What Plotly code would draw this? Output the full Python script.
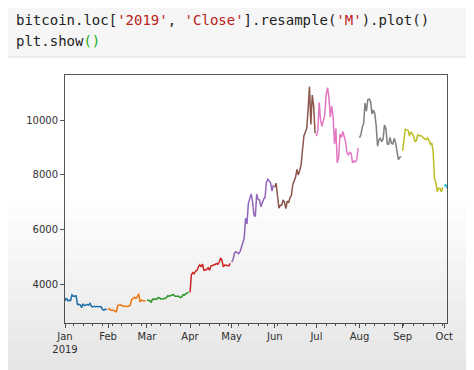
import pandas as pd
import plotly.graph_objects as go

# Daily close values per month
months = ["2019-01", "2019-02", "2019-03", "2019-04", "2019-05",
          "2019-06", "2019-07", "2019-08", "2019-09", "2019-10"]
jan = [3401, 3490, 3395, 3414, 3403, 3608, 3562, 3567, 3571, 3256, 3263, 3240, 3144, 3280, 3213, 3235,
       3256, 3237, 3300, 3187, 3165, 3190, 3173, 3187, 3186, 3188, 3172, 3071, 3052, 3085, 3060]
feb = [3069, 3099, 3048, 3044, 3050, 3004, 2991, 3227, 3231, 3247, 3211, 3215, 3196, 3183, 3186, 3194,
       3233, 3446, 3473, 3520, 3480, 3525, 3645, 3353, 3417, 3392, 3389, 3392]
mar = [3416, 3420, 3405, 3329, 3448, 3455, 3462, 3452, 3508, 3497, 3456, 3460, 3457, 3473, 3505, 3583,
       3562, 3569, 3603, 3617, 3566, 3561, 3572, 3560, 3507, 3527, 3617, 3601, 3650, 3690, 3700]
apr = [3701, 4343, 4426, 4381, 4483, 4503, 4627, 4708, 4632, 4739, 4507, 4530, 4536, 4599, 4510, 4660,
       4674, 4716, 4720, 4751, 4730, 4805, 4959, 4864, 4637, 4699, 4689, 4704, 4670, 4762]
may = [4808, 4900, 5134, 5190, 5158, 5115, 5188, 5324, 5495, 5677, 6412, 6205, 6955, 7115, 7303, 7018,
       6536, 6471, 7296, 7101, 7087, 6835, 7015, 7109, 7167, 7719, 7837, 7761, 7707, 7404, 7631]
jun = [7536, 7694, 7224, 6783, 6885, 6883, 7079, 7000, 6766, 7040, 6976, 7168, 7243, 7650, 7778, 7915,
       8202, 7992, 8161, 8384, 8927, 9418, 9553, 9690, 10376, 11230, 9841, 10918, 10524, 9519]
jul = [9419, 9613, 10645, 9981, 9770, 9975, 10190, 10934, 11190, 10820, 10109, 10515, 10139, 9129, 9697,
       8435, 8627, 9493, 9372, 9583, 9433, 9205, 8811, 8732, 8821, 8784, 8435, 8501, 8472, 8550, 8976]
aug = [9360, 9466, 9740, 9873, 10625, 10330, 10748, 10770, 10677, 10219, 10371, 10244, 9806, 9047, 9280,
       9337, 9209, 9311, 9824, 9687, 9124, 9118, 9367, 9144, 9125, 9334, 9167, 8779, 8559, 8638, 8668]
sep = [8880, 9416, 9667, 9641, 9624, 9421, 9571, 9502, 9405, 9206, 9262, 9473, 9428, 9426, 9416, 9352,
       9319, 9280, 9342, 9265, 9118, 9164, 8854, 7845, 7723, 7388, 7509, 7504, 7375, 7547]
octo = [7592, 7638, 7516]
series = [jan, feb, mar, apr, may, jun, jul, aug, sep, octo]

tick_dates = ["2019-01-01", "2019-02-01", "2019-03-01", "2019-04-01", "2019-05-01",
              "2019-06-01", "2019-07-01", "2019-08-01", "2019-09-01", "2019-10-01"]
tick_labels = ["Jan<br>2019", "Feb", "Mar", "Apr", "May", "Jun", "Jul", "Aug", "Sep", "Oct"]
y_ticks = [4000, 6000, 8000, 10000]
y_labels = ["4000", "6000", "8000", "10000"]

colors = ["#1f77b4", "#ff7f0e", "#2ca02c", "#d62728", "#9467bd",
          "#8c564b", "#e377c2", "#7f7f7f", "#bcbd22", "#17becf"]

OFF = 8  # default page body margin
W, H = 474 - OFF, 370 - OFF
# target screen pixels of the plot area
SL, SR, ST, SB = 65, 447, 75, 323
L, R, T, B = SL - OFF, SR - OFF, ST - OFF, SB - OFF


def px(x):  # screen pixel -> paper
    return (x - SL) / (SR - SL)


def py(y):
    return (SB - y) / (SB - ST)


fig = go.Figure()
for m, vals, c in zip(months, series, colors):
    dates = pd.date_range(m + "-01", periods=len(vals), freq="D")
    fig.add_trace(go.Scatter(x=dates, y=vals, mode="lines",
                             line=dict(color=c, width=1.5), showlegend=False,
                             hoverinfo="skip"))

shapes = []
# code cell box
shapes.append(dict(type="rect", xref="paper", yref="paper",
                   x0=px(6), x1=px(480), y0=py(57), y1=py(4),
                   fillcolor="#f6f6f6", line=dict(color="#dcdcdc", width=1), layer="below"))
# bottom grey vignette
n = 17
for i in range(n):
    y0p = 200 + i * 10
    shapes.append(dict(type="rect", xref="paper", yref="paper",
                       x0=px(-2), x1=px(490), y0=py(y0p + 10), y1=py(y0p),
                       fillcolor="rgba(0,0,0,%.4f)" % (0.006 * (i + 1)),
                       line=dict(width=0), layer="above"))

S = "#ba2121"
code1 = ("bitcoin.loc[<span style='color:%s'>'2019'</span>, <span style='color:%s'>'Close'</span>]"
         ".resample(<span style='color:%s'>'M'</span>).plot()") % (S, S, S)
code2 = "plt.show<span style='color:#22aa22'>()</span>"

annotations = [
    dict(text=code1, xref="paper", yref="paper", x=px(14), y=py(20), xanchor="left",
         yanchor="middle", showarrow=False,
         font=dict(family="DejaVu Sans Mono", size=14, color="#222222")),
    dict(text=code2, xref="paper", yref="paper", x=px(14), y=py(41), xanchor="left",
         yanchor="middle", showarrow=False,
         font=dict(family="DejaVu Sans Mono", size=14, color="#222222")),
]

fig.update_layout(
    width=W, height=H,
    margin=dict(l=L, r=W - R, t=T, b=H - B, autoexpand=False),
    paper_bgcolor="white", plot_bgcolor="white",
    shapes=shapes, annotations=annotations,
    font=dict(family="DejaVu Sans", size=10, color="#333333"),
)
fig.update_xaxes(
    type="date", range=["2019-01-01", "2019-10-03"],
    tickvals=tick_dates, ticktext=tick_labels,
    showgrid=False, zeroline=False,
    showline=True, linecolor="#555555", linewidth=1, mirror=True,
    ticks="outside", ticklen=4, tickcolor="#555555",
    minor=dict(ticks="outside", ticklen=2, tickcolor="#555555",
               dtick=7 * 86400000, tick0="2019-01-07", showgrid=False),
    tickfont=dict(size=10, color="#333333"),
)
fig.update_yaxes(
    range=[2580, 11650], tickvals=y_ticks, ticktext=y_labels,
    showgrid=False, zeroline=False,
    showline=True, linecolor="#555555", linewidth=1, mirror=True,
    ticks="outside", ticklen=4, tickcolor="#555555",
    tickfont=dict(size=10, color="#333333"),
)

fig.write_html("out.html")
